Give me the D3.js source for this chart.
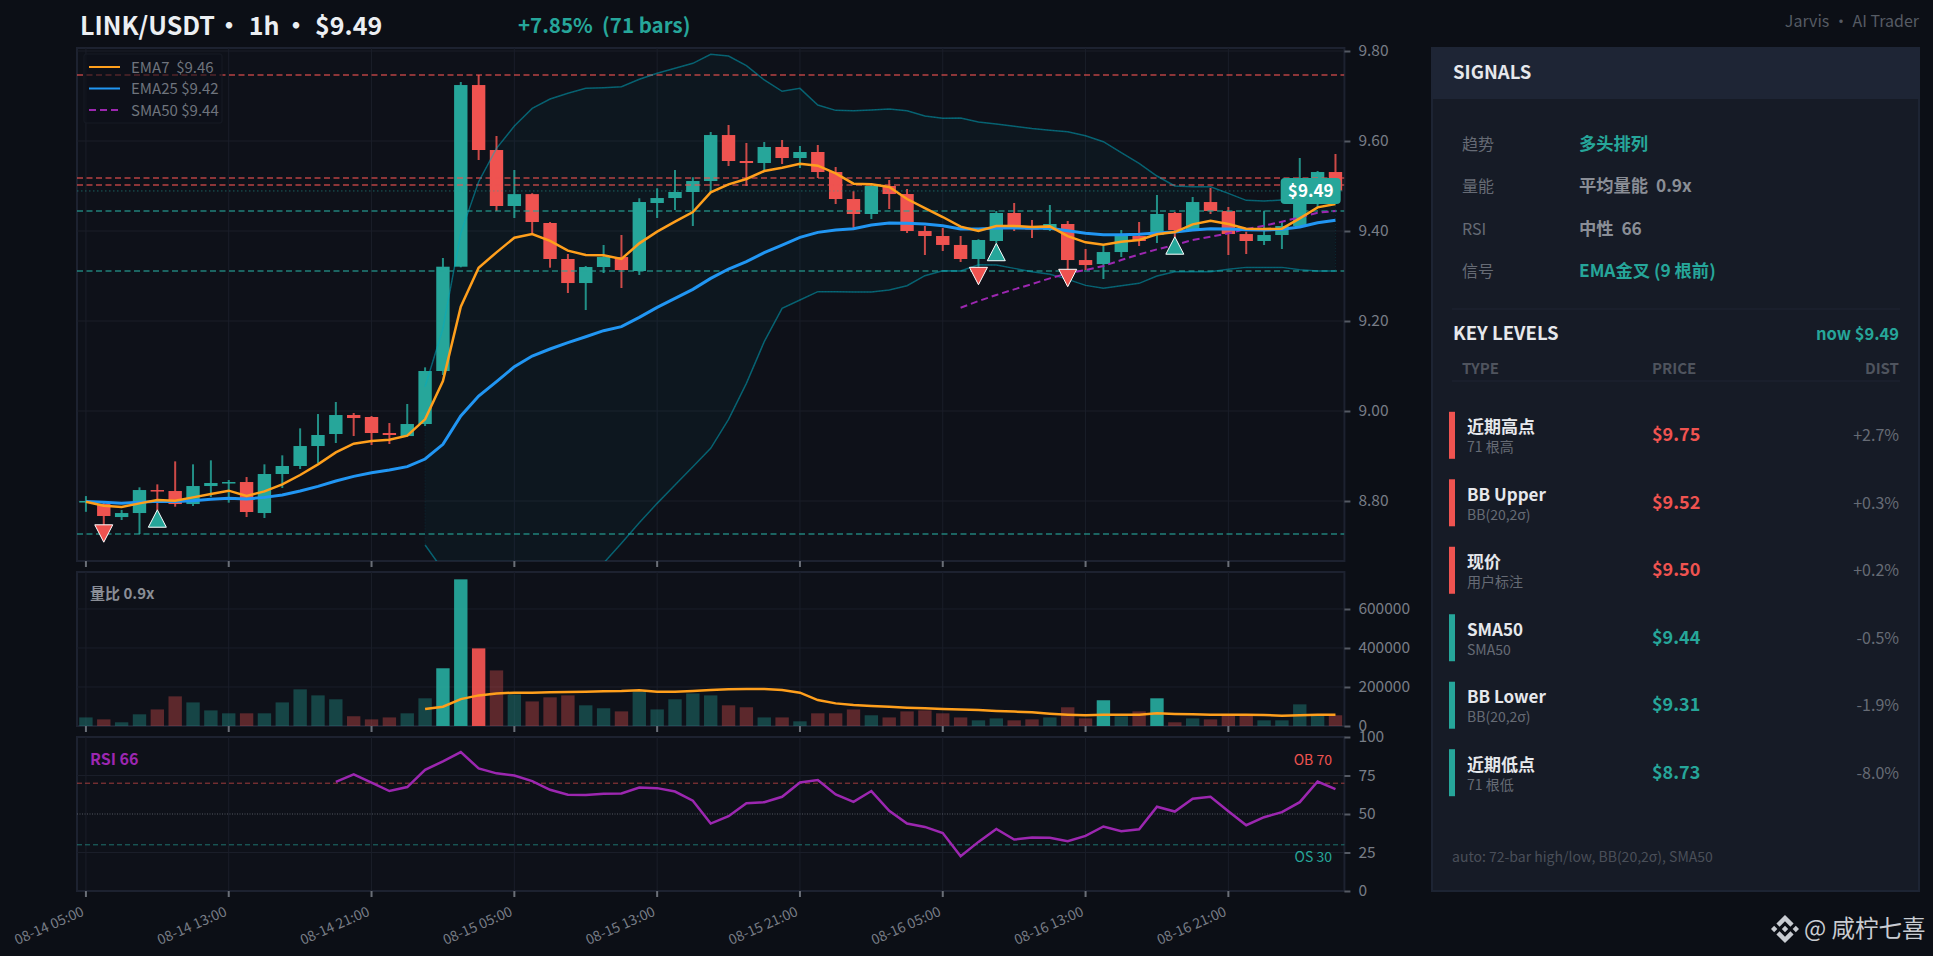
<!DOCTYPE html>
<html>
<head>
<meta charset="utf-8">
<script src="https://cdn.jsdelivr.net/npm/d3@7"></script>
<style>
html,body{margin:0;padding:0;background:#0c0f16;overflow:hidden;}
svg{display:block;}
text{font-family:"Noto Sans CJK SC","Noto Sans",sans-serif;white-space:pre;}
</style>
</head>
<body>
<script>
// candles, one entry per 1h bar
var opens=[8.798,8.7933,8.7644,8.7733,8.8244,8.8222,8.7933,8.8333,8.8407,8.8422,8.7733,8.86,8.8778,8.9222,8.9489,8.9911,8.9867,8.9511,8.9444,8.9711,9.0889,9.3207,9.7244,9.58,9.4556,9.482,9.4178,9.3378,9.2844,9.32,9.3422,9.3111,9.4622,9.4733,9.4867,9.5111,9.6133,9.5556,9.5511,9.5867,9.5622,9.5756,9.5311,9.4711,9.4378,9.5,9.4822,9.4,9.3889,9.369,9.3378,9.3778,9.44,9.4067,9.4022,9.4156,9.3355,9.3267,9.3533,9.3889,9.3911,9.44,9.4022,9.4644,9.4444,9.3933,9.3778,9.3911,9.4111,9.4874,9.5311];
var highs=[8.811,8.799,8.78,8.8304,8.837,8.8881,8.8815,8.8904,8.8467,8.8533,8.8815,8.9015,8.9615,8.9933,9.02,8.9956,8.9889,8.9733,9.0156,9.097,9.34,9.731,9.7467,9.611,9.5355,9.4837,9.42,9.349,9.3222,9.369,9.3911,9.4726,9.4948,9.5356,9.5193,9.62,9.6356,9.5956,9.5978,9.6022,9.5889,9.5911,9.5422,9.4881,9.506,9.5133,9.4933,9.4111,9.4067,9.3889,9.3815,9.4444,9.4622,9.4244,9.4578,9.4222,9.36,9.3689,9.4022,9.42,9.48,9.4422,9.4756,9.4955,9.4533,9.3985,9.4452,9.4207,9.5622,9.5333,9.571];
var lows=[8.776,8.7467,8.7578,8.7267,8.78,8.7874,8.7889,8.809,8.7963,8.7644,8.7622,8.8289,8.8711,8.8844,8.9289,8.9444,8.9244,8.9267,8.943,8.9667,9.08,9.3193,9.5578,9.4444,9.4289,9.3933,9.3185,9.2622,9.2244,9.3067,9.2733,9.3022,9.4289,9.4467,9.4111,9.4867,9.5444,9.4999,9.5356,9.5489,9.54,9.5178,9.46,9.4067,9.4267,9.4489,9.3956,9.3467,9.3556,9.3311,9.3207,9.3726,9.4,9.3844,9.4,9.3148,9.3133,9.2933,9.3422,9.3667,9.3733,9.3859,9.4,9.4378,9.3467,9.3489,9.3689,9.36,9.408,9.4526,9.48];
var closes=[8.8,8.7667,8.7733,8.8244,8.822,8.7933,8.8333,8.84,8.8422,8.7756,8.86,8.8778,8.9222,8.9467,8.9911,8.9844,8.9511,8.9467,8.9711,9.0889,9.3207,9.7244,9.58,9.4556,9.482,9.42,9.3378,9.2844,9.32,9.3422,9.3133,9.4644,9.4733,9.4867,9.5111,9.6133,9.5556,9.5511,9.5867,9.5622,9.5756,9.5311,9.4711,9.4378,9.5,9.4822,9.4,9.3889,9.369,9.3378,9.38,9.44,9.4089,9.4037,9.4156,9.3355,9.3244,9.3533,9.3911,9.3778,9.4378,9.4022,9.4644,9.4444,9.3933,9.3778,9.3911,9.4111,9.4874,9.5311,9.49];
var volumes=[44000,34000,19000,60000,85000,152000,121000,80000,65000,65000,65000,121000,188000,157000,137000,50000,34000,44000,65000,142000,296000,752000,398000,285000,162000,126000,147000,157000,106000,91000,75000,178000,85000,137000,167000,157000,106000,96000,44000,44000,24000,65000,65000,85000,55000,44000,75000,80000,65000,44000,29000,39000,29000,34000,44000,96000,39000,132000,50000,75000,142000,19000,39000,34000,55000,55000,29000,29000,111000,55000,55000];
var volMa=[null,null,null,null,null,null,null,null,null,null,null,null,null,null,null,null,null,null,null,87000,99000,138000,157000,167000,171000,171000,173000,174000,176000,178000,179000,183000,176000,176000,180000,185000,188000,190000,190000,185000,171000,133000,116000,108000,103000,99000,94000,91000,87000,85000,82000,77000,74000,70000,63000,58000,55000,58000,58000,58000,65000,62000,60000,58000,58000,58000,56000,53000,55000,58000,58000];

// indicators
var ema7=[8.7985,8.7896,8.7867,8.7948,8.8022,8.8007,8.8081,8.8156,8.823,8.8111,8.8215,8.8370,8.8578,8.8815,8.9081,8.9274,8.9333,8.9363,8.9452,8.9815,9.0667,9.2318,9.3185,9.3526,9.3852,9.3933,9.378,9.3563,9.3467,9.346,9.3378,9.3726,9.3985,9.4208,9.4422,9.486,9.5037,9.5156,9.5333,9.5407,9.5496,9.5452,9.5281,9.5052,9.5037,9.4978,9.4711,9.4511,9.4311,9.4096,9.4,9.4111,9.4111,9.4089,9.4103,9.3888,9.3748,9.3696,9.3763,9.38,9.3926,9.3977,9.4148,9.4229,9.4155,9.4052,9.4044,9.4052,9.4281,9.4526,9.46];
var ema25=[8.7992,8.797,8.7948,8.797,8.7992,8.7992,8.8007,8.8037,8.8059,8.8044,8.8081,8.8133,8.8222,8.8326,8.8444,8.8548,8.863,8.8689,8.8763,8.8933,8.9259,8.9889,9.0333,9.0652,9.0985,9.1222,9.1378,9.152,9.165,9.1785,9.1874,9.2082,9.2304,9.2504,9.2704,9.2948,9.3156,9.3319,9.3519,9.3689,9.3859,9.397,9.4022,9.4052,9.4133,9.4178,9.417,9.4156,9.4119,9.4044,9.4044,9.4067,9.4067,9.4059,9.4059,9.4007,9.3948,9.3918,9.3918,9.3926,9.3955,9.3977,9.4022,9.4052,9.4044,9.403,9.4022,9.4037,9.4089,9.4185,9.4237];
var sma50=[null,null,null,null,null,null,null,null,null,null,null,null,null,null,null,null,null,null,null,null,null,null,null,null,null,null,null,null,null,null,null,null,null,null,null,null,null,null,null,null,null,null,null,null,null,null,null,null,null,9.2296,9.2444,9.2578,9.2703,9.2822,9.2948,9.3059,9.3133,9.3222,9.3355,9.3481,9.3593,9.3689,9.38,9.3874,9.3948,9.4044,9.4118,9.4207,9.4303,9.4407,9.4444];
var bbUpper=[null,null,null,null,null,null,null,null,null,null,null,null,null,null,null,null,null,null,null,9.054,9.1837,9.3948,9.5096,9.5837,9.6333,9.6726,9.6933,9.706,9.717,9.7185,9.7207,9.7371,9.7504,9.7615,9.7726,9.7926,9.7889,9.7674,9.7356,9.7104,9.717,9.68,9.6681,9.6674,9.6689,9.6711,9.6674,9.6556,9.6504,9.6511,9.6422,9.6378,9.633,9.628,9.624,9.6207,9.6118,9.5985,9.574,9.5503,9.5222,9.5,9.4985,9.4985,9.4837,9.4681,9.4667,9.4689,9.471,9.474,9.477];
var bbLower=[null,null,null,null,null,null,null,null,null,null,null,null,null,null,null,null,null,null,null,8.7022,8.6467,8.52,8.46,8.44,8.45,8.47,8.5,8.54,8.6,8.662,8.706,8.7518,8.7948,8.8356,8.8763,8.917,8.9815,9.0615,9.1541,9.2281,9.2467,9.2652,9.2652,9.2644,9.2644,9.2689,9.2785,9.3008,9.3119,9.3111,9.3251,9.3244,9.317,9.3096,9.3037,9.2926,9.2792,9.2726,9.2785,9.2837,9.2999,9.3096,9.3096,9.3096,9.3148,9.3192,9.3192,9.3192,9.3141,9.3111,9.3111];
var rsi=[null,null,null,null,null,null,null,null,null,null,null,null,null,null,70.9,75.7,70.3,64.9,67.5,78.7,84.2,90.2,79.6,76.4,75,71.4,65.7,62.5,62.3,63.1,63.3,67.2,66.8,64.6,58.6,43.8,48.6,57,57.7,61.2,70.5,72,62.7,57.9,64.9,52.1,43.8,41.6,37.7,22.6,31.9,40.3,33.4,34.7,34.5,32.3,35.8,41.9,38.8,40.1,54.7,51.6,59.9,61.2,51.8,42.7,47.9,51.2,57.7,71.1,66.2];

// buy / sell marks
var downBars=[1,50,55];
var downPrices=[8.7278,9.3,9.2956];
var upBars=[4,51,61];
var upPrices=[8.7611,9.3533,9.3678];

// axis ticks
var tickBars=[0,8,16,24,32,40,48,56,64];
var tickLabels=["08-14 05:00","08-14 13:00","08-14 21:00","08-15 05:00","08-15 13:00","08-15 21:00","08-16 05:00","08-16 13:00","08-16 21:00"];
var priceTicks=[8.8,9.0,9.2,9.4,9.6,9.8];
var volTicks=[0,200000,400000,600000];
var rsiTicks=[0,25,50,75,100];

// horizontal levels on the chart
var resistLevels=[9.7467,9.5178,9.5022];
var supportLevels=[9.4444,9.3111,8.7267];
var lastPrice=9.489;

// side panel
var signalKeys=["趋势","量能","RSI","信号"];
var signalValues=["多头排列","平均量能  0.9x","中性  66","EMA金叉 (9 根前)"];
var signalTones=["up","flat","flat","up"];
var levelNames=["近期高点","BB Upper","现价","SMA50","BB Lower","近期低点"];
var levelSubs=["71 根高","BB(20,2σ)","用户标注","SMA50","BB(20,2σ)","71 根低"];
var levelPrices=["$9.75","$9.52","$9.50","$9.44","$9.31","$8.73"];
var levelDists=["+2.7%","+0.3%","+0.2%","-0.5%","-1.9%","-8.0%"];
var levelTones=["down","down","down","up","up","up"];
var legendNames=["EMA7  $9.46","EMA25 $9.42","SMA50 $9.44"];

var width=1933, height=956;
var up="#26a69a", down="#ef5350", orange="#ff9f1c", blue="#2196f3", purple="#9c27b0", bbCol="#00acc1";
var panelBg="#0e1119", frameCol="#1d2230", gridCol="#1a1e29", axisTxt="#787d86";
var tones={up:up,down:down,flat:"#8a8e96"};

var svg=d3.select("body").append("svg").attr("width",width).attr("height",height);

var left=77, right=1344.4;
var x=d3.scaleBand().domain(d3.range(opens.length)).range([left,right]).paddingInner(0.25).paddingOuter(0.125);
var cx=function(i){return x(i)+x.bandwidth()/2;};
var y=d3.scaleLinear().domain([8.6667,9.8067]).range([561,48]);
var yVol=d3.scaleLinear().domain([0,789700]).range([726,572]);
var yRsi=d3.scaleLinear().domain([0,100]).range([891,737]);

// panel background + grid + axes
function panel(scale,ticks,gridTicks,tickFmt,showX){
  var r=scale.range();
  var g=svg.append("g");
  g.append("rect").attr("x",left).attr("y",r[1]).attr("width",right-left).attr("height",r[0]-r[1])
    .attr("fill",panelBg).attr("stroke",frameCol).attr("stroke-width",2);
  g.selectAll("line.gy").data(gridTicks).enter().append("line").attr("class","gy")
    .attr("x1",left).attr("x2",right).attr("y1",function(d){return scale(d);}).attr("y2",function(d){return scale(d);})
    .attr("stroke",gridCol).attr("stroke-width",1);
  g.selectAll("line.gx").data(tickBars).enter().append("line").attr("class","gx")
    .attr("x1",cx).attr("x2",cx).attr("y1",r[1]).attr("y2",r[0])
    .attr("stroke",gridCol).attr("stroke-width",1);
  var ya=g.append("g").attr("transform","translate("+right+",0)")
    .call(d3.axisRight(scale).tickValues(ticks).tickFormat(tickFmt).tickSize(6).tickPadding(8));
  ya.select(".domain").remove();
  ya.selectAll("line").attr("stroke","#555a64").attr("stroke-width",2);
  ya.selectAll("text").attr("fill",axisTxt).attr("font-size",15.5);
  var xa=g.append("g").attr("transform","translate(0,"+r[0]+")")
    .call(d3.axisBottom(x).tickValues(tickBars).tickSize(6).tickFormat(function(d){
      return showX?tickLabels[tickBars.indexOf(d)]:"";}));
  xa.select(".domain").remove();
  xa.selectAll("line").attr("stroke","#6a6f78").attr("stroke-width",2);
  xa.selectAll("text").attr("fill",axisTxt).attr("font-size",14).attr("text-anchor","end")
    .attr("x",0).attr("y",0).attr("dy",0).attr("transform","translate(-1,24) rotate(-24)");
  return g;
}
panel(y,priceTicks,priceTicks,d3.format(".2f"),false);
panel(yVol,volTicks,volTicks.slice(1),d3.format("d"),false);
panel(yRsi,rsiTicks,[25,75],d3.format("d"),true);

svg.append("clipPath").attr("id","mainClip").append("rect")
  .attr("x",left).attr("y",48).attr("width",right-left).attr("height",513);
var main=svg.append("g").attr("clip-path","url(#mainClip)");

// bollinger band fill
var hasBB=function(d,i){return bbUpper[i]!==null;};
var bbArea=d3.area().defined(hasBB).x(function(d,i){return cx(i);})
  .y0(function(d,i){return y(bbLower[i]);}).y1(function(d,i){return y(bbUpper[i]);});
main.append("path").attr("d",bbArea(opens)).attr("fill",bbCol).attr("fill-opacity",0.045)
  .attr("stroke",bbCol).attr("stroke-opacity",0.14).attr("stroke-dasharray","1,2");

// candles
var candle=main.selectAll("g.candle").data(opens).enter().append("g").attr("class","candle");
var colOf=function(d,i){return closes[i]>=opens[i]?up:down;};
candle.append("line")
  .attr("x1",function(d,i){return cx(i);}).attr("x2",function(d,i){return cx(i);})
  .attr("y1",function(d,i){return y(highs[i]);}).attr("y2",function(d,i){return y(lows[i]);})
  .attr("stroke",colOf).attr("stroke-width",2).attr("stroke-opacity",0.85);
candle.append("rect")
  .attr("x",function(d,i){return x(i);}).attr("width",x.bandwidth())
  .attr("y",function(d,i){return y(Math.max(opens[i],closes[i]));})
  .attr("height",function(d,i){return Math.max(1.5,Math.abs(y(opens[i])-y(closes[i])));})
  .attr("fill",colOf);

// level lines
main.selectAll("line.res").data(resistLevels).enter().append("line").attr("class","res")
  .attr("x1",left).attr("x2",right).attr("y1",function(d){return y(d);}).attr("y2",function(d){return y(d);})
  .attr("stroke",down).attr("stroke-width",1.5).attr("stroke-opacity",0.75).attr("stroke-dasharray","6,3.5");
main.selectAll("line.sup").data(supportLevels).enter().append("line").attr("class","sup")
  .attr("x1",left).attr("x2",right).attr("y1",function(d){return y(d);}).attr("y2",function(d){return y(d);})
  .attr("stroke",up).attr("stroke-width",1.5).attr("stroke-opacity",0.75).attr("stroke-dasharray","6,3.5");
main.append("line").attr("x1",left).attr("x2",right).attr("y1",y(lastPrice)).attr("y2",y(lastPrice))
  .attr("stroke",up).attr("stroke-width",1).attr("stroke-opacity",0.55).attr("stroke-dasharray","1.5,2.5");

// lines
function seriesLine(vals,sc){
  return d3.line().defined(function(d){return d!==null;}).x(function(d,i){return cx(i);}).y(function(d){return sc(d);})(vals);
}
main.append("path").attr("d",seriesLine(bbUpper,y)).attr("fill","none").attr("stroke",bbCol).attr("stroke-opacity",0.5).attr("stroke-width",1.5);
main.append("path").attr("d",seriesLine(bbLower,y)).attr("fill","none").attr("stroke",bbCol).attr("stroke-opacity",0.5).attr("stroke-width",1.5);
main.append("path").attr("d",seriesLine(sma50,y)).attr("fill","none").attr("stroke",purple).attr("stroke-width",2).attr("stroke-dasharray","7,4");
main.append("path").attr("d",seriesLine(ema25,y)).attr("fill","none").attr("stroke",blue).attr("stroke-width",3);
main.append("path").attr("d",seriesLine(ema7,y)).attr("fill","none").attr("stroke",orange).attr("stroke-width",2.5);

// signal triangles
main.selectAll("path.dn").data(downBars).enter().append("path").attr("class","dn")
  .attr("transform",function(d,i){return "translate("+cx(d)+","+y(downPrices[i])+")";})
  .attr("d","M-9,-8.7L9,-8.7L0,8.7Z").attr("fill",down).attr("stroke","#fff").attr("stroke-width",1);
main.selectAll("path.upm").data(upBars).enter().append("path").attr("class","upm")
  .attr("transform",function(d,i){return "translate("+cx(d)+","+y(upPrices[i])+")";})
  .attr("d","M-9,8.7L9,8.7L0,-8.7Z").attr("fill",up).attr("stroke","#fff").attr("stroke-width",1);

// current price tag
svg.append("rect").attr("x",1280.7).attr("y",y(lastPrice)-13).attr("width",60).attr("height",26).attr("rx",4).attr("fill",up);
svg.append("text").attr("x",1310.7).attr("y",y(lastPrice)+6).attr("text-anchor","middle").attr("fill","#fff")
  .attr("font-size",17).attr("font-weight",700).text("$9.49");

// legend
var legend=svg.append("g");
legend.append("rect").attr("x",84).attr("y",54).attr("width",138).attr("height",69).attr("rx",2)
  .attr("fill","#0e1119").attr("fill-opacity",0.6).attr("stroke","#171b25");
var legendY=d3.scalePoint().domain(d3.range(3)).range([67,110]);
var legendCols=[orange,blue,purple];
legend.selectAll("line").data(legendNames).enter().append("line")
  .attr("x1",89).attr("x2",120).attr("y1",function(d,i){return legendY(i);}).attr("y2",function(d,i){return legendY(i);})
  .attr("stroke",function(d,i){return legendCols[i];}).attr("stroke-width",2)
  .attr("stroke-dasharray",function(d,i){return i==2?"7,4":null;});
legend.selectAll("text").data(legendNames).enter().append("text")
  .attr("x",131).attr("y",function(d,i){return legendY(i)+5.5;}).attr("fill","#6f747d").attr("font-size",15).text(function(d){return d;});

// volume
svg.append("g").selectAll("rect").data(volumes).enter().append("rect")
  .attr("x",function(d,i){return x(i);}).attr("width",x.bandwidth())
  .attr("y",function(d){return yVol(d);}).attr("height",function(d){return yVol(0)-yVol(d);})
  .attr("fill",colOf)
  .attr("fill-opacity",function(d,i){return volMa[i]!==null&&d>2.1*volMa[i]?0.95:0.35;});
svg.append("path").attr("d",seriesLine(volMa,yVol)).attr("fill","none").attr("stroke",orange).attr("stroke-width",2.5);
svg.append("text").attr("x",90).attr("y",599).attr("fill","#8a8e96").attr("font-size",15).attr("font-weight",700).text("量比 0.9x");

// rsi
svg.append("line").attr("x1",left).attr("x2",right).attr("y1",yRsi(70)).attr("y2",yRsi(70))
  .attr("stroke",down).attr("stroke-opacity",0.65).attr("stroke-width",1).attr("stroke-dasharray","5,3");
svg.append("line").attr("x1",left).attr("x2",right).attr("y1",yRsi(30)).attr("y2",yRsi(30))
  .attr("stroke",up).attr("stroke-opacity",0.65).attr("stroke-width",1).attr("stroke-dasharray","5,3");
svg.append("line").attr("x1",left).attr("x2",right).attr("y1",yRsi(50)).attr("y2",yRsi(50))
  .attr("stroke","#6f747d").attr("stroke-opacity",0.7).attr("stroke-width",1).attr("stroke-dasharray","1,1.5");
svg.append("path").attr("d",seriesLine(rsi,yRsi)).attr("fill","none").attr("stroke",purple).attr("stroke-width",2.5);
svg.append("text").attr("x",90).attr("y",765).attr("fill",purple).attr("font-size",16).attr("font-weight",700).text("RSI 66");
svg.append("text").attr("x",1332).attr("y",765).attr("text-anchor","end").attr("fill",down).attr("font-size",14).text("OB 70");
svg.append("text").attr("x",1332).attr("y",862).attr("text-anchor","end").attr("fill",up).attr("font-size",14).text("OS 30");

// header
var titleParts=["LINK/USDT","·","1h","·","$9.49"];
var titleX=[80,229,248.7,296,315];
svg.selectAll("text.title").data(titleParts).enter().append("text").attr("class","title")
  .attr("x",function(d,i){return titleX[i];}).attr("y",35)
  .attr("text-anchor",function(d){return d=="·"?"middle":"start";})
  .attr("fill","#eceff3").attr("font-size",25).attr("font-weight",600).text(function(d){return d;});
svg.append("text").attr("x",518).attr("y",33).attr("fill",up).attr("font-size",20.5).attr("font-weight",600).text("+7.85%  (71 bars)");
svg.append("text").attr("x",1919).attr("y",27).attr("text-anchor","end").attr("fill","#565b64").attr("font-size",16).text("Jarvis · AI Trader");

// side panel
var side=svg.append("g");
side.append("rect").attr("x",1432).attr("y",48).attr("width",487).attr("height",843).attr("fill","#161b26").attr("stroke","#1d2433").attr("stroke-width",2);
side.append("rect").attr("x",1431).attr("y",47).attr("width",489).attr("height",52).attr("fill","#1e2535");
side.append("text").attr("x",1453).attr("y",79).attr("fill","#e6e8ec").attr("font-size",18.5).attr("font-weight",600).text("SIGNALS");

var sigY=d3.scalePoint().domain(d3.range(4)).range([144,271]);
side.selectAll("text.sk").data(signalKeys).enter().append("text").attr("class","sk")
  .attr("x",1462).attr("y",function(d,i){return sigY(i)+6;}).attr("fill","#666b75").attr("font-size",16).text(function(d){return d;});
side.selectAll("text.sv").data(signalValues).enter().append("text").attr("class","sv")
  .attr("x",1579).attr("y",function(d,i){return sigY(i)+6;}).attr("fill",function(d,i){return tones[signalTones[i]];})
  .attr("font-size",17.3).attr("font-weight",700).text(function(d){return d;});

side.append("line").attr("x1",1452).attr("x2",1900).attr("y1",309).attr("y2",309).attr("stroke","#1f2532");
side.append("text").attr("x",1453).attr("y",340).attr("fill","#e6e8ec").attr("font-size",18.5).attr("font-weight",700).text("KEY LEVELS");
side.append("text").attr("x",1899).attr("y",340).attr("text-anchor","end").attr("fill",up).attr("font-size",16.5).attr("font-weight",600).text("now $9.49");
side.append("text").attr("x",1462).attr("y",374).attr("fill","#4f545e").attr("font-size",15).attr("font-weight",600).text("TYPE");
side.append("text").attr("x",1652).attr("y",374).attr("fill","#4f545e").attr("font-size",15).attr("font-weight",600).text("PRICE");
side.append("text").attr("x",1899).attr("y",374).attr("text-anchor","end").attr("fill","#4f545e").attr("font-size",15).attr("font-weight",600).text("DIST");
side.append("line").attr("x1",1452).attr("x2",1900).attr("y1",381).attr("y2",381).attr("stroke","#1f2532");

var rowY=d3.scalePoint().domain(d3.range(6)).range([435.3,772.7]);
var row=side.selectAll("g.lvl").data(levelNames).enter().append("g").attr("class","lvl")
  .attr("transform",function(d,i){return "translate(0,"+rowY(i)+")";});
row.append("rect").attr("x",1449).attr("y",-23.5).attr("width",6).attr("height",47)
  .attr("fill",function(d,i){return tones[levelTones[i]];});
row.append("text").attr("x",1467).attr("y",-2).attr("fill","#e6e8ec").attr("font-size",17).attr("font-weight",700).text(function(d){return d;});
row.append("text").attr("x",1467).attr("y",17).attr("fill","#666b75").attr("font-size",14).text(function(d,i){return levelSubs[i];});
row.append("text").attr("x",1652).attr("y",6).attr("fill",function(d,i){return tones[levelTones[i]];})
  .attr("font-size",18).attr("font-weight",700).text(function(d,i){return levelPrices[i];});
row.append("text").attr("x",1899).attr("y",6).attr("text-anchor","end").attr("fill","#666b75").attr("font-size",16).text(function(d,i){return levelDists[i];});

side.append("text").attr("x",1452).attr("y",862).attr("fill","#4a4f59").attr("font-size",14).text("auto: 72-bar high/low, BB(20,2σ), SMA50");

// watermark
var mark=svg.append("g").attr("transform","translate(1771,915) scale(0.221)").attr("fill","#c9ccd2");
mark.append("path").attr("d","M38.73 53.2l24.59-24.58 24.6 24.6 14.3-14.31L63.32 0 24.43 38.89z");
mark.append("path").attr("d","M0 63.31l14.3-14.31 14.31 14.31-14.31 14.3z");
mark.append("path").attr("d","M38.73 73.41l24.59 24.59 24.6-24.6 14.31 14.29-38.9 38.91-38.9-38.88z");
mark.append("path").attr("d","M98 63.31l14.3-14.3 14.31 14.3-14.31 14.3z");
mark.append("path").attr("d","M77.83 63.3L63.32 48.78 52.59 59.51l-1.24 1.23-2.54 2.54 14.51 14.5 14.51-14.47z");
svg.append("text").attr("x",1804).attr("y",937).attr("fill","#c9ccd2").attr("font-size",23.5).text("@ 咸柠七喜");
</script>
</body>
</html>
